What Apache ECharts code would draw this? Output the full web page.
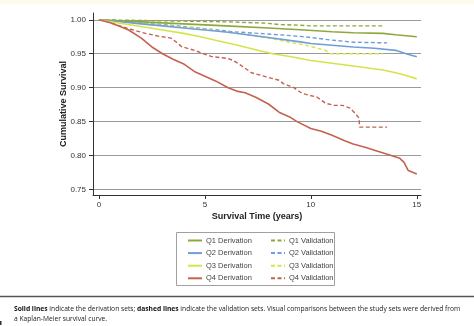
<!DOCTYPE html>
<html>
<head>
<meta charset="utf-8">
<script src="https://cdn.jsdelivr.net/npm/echarts@6/dist/echarts.min.js"></script>
<style>
  html, body { margin: 0; padding: 0; background: #fff; }
  #chart { width: 474px; height: 326px; }
</style>
</head>
<body>
<div id="chart"></div>
<script>
// Kaplan-Meier survival estimates: [years, cumulative survival]
const q1Derivation = [[0,1.000],[2,0.997],[4,0.994],[6,0.991],[8,0.988],[9.7,0.985],[11,0.9825],[12,0.981],[13.4,0.980],[14,0.978],[15,0.975]];
const q1Validation = [[0,1.000],[2,0.999],[4,0.998],[6,0.997],[7,0.996],[7.9,0.995],[8.5,0.993],[9.5,0.992],[10,0.991],[13.4,0.991]];
const q2Derivation = [[0,1.000],[1,0.997],[2,0.994],[3,0.991],[4,0.988],[5,0.985],[6,0.982],[7,0.978],[8,0.974],[9.5,0.9675],[10,0.965],[11,0.9625],[12,0.960],[13,0.958],[14,0.955],[14.5,0.950],[15,0.9455]];
const q2Validation = [[0,1.000],[1,0.998],[2,0.995],[3,0.993],[4,0.990],[5,0.987],[6.3,0.9825],[7.5,0.980],[8.7,0.9775],[9.7,0.975],[10.5,0.972],[11,0.970],[12,0.967],[13.6,0.966]];
const q3Derivation = [[0,1.000],[1,0.995],[2,0.990],[3,0.985],[4,0.980],[4.8,0.975],[5.5,0.970],[6.5,0.963],[7.4,0.956],[8.2,0.950],[9,0.946],[10,0.940],[11,0.936],[12,0.932],[13.4,0.926],[14,0.922],[14.5,0.918],[15,0.913]];
const q3Validation = [[0,1.000],[1,0.998],[2,0.995],[3,0.992],[4,0.989],[4.8,0.987],[6,0.982],[7,0.978],[8,0.973],[8.5,0.970],[9,0.967],[9.7,0.963],[10.2,0.959],[10.7,0.955],[10.9,0.950],[13.4,0.950]];
const q4Derivation = [[0,1.000],[0.5,0.996],[1,0.990],[1.4,0.985],[2,0.973],[2.5,0.960],[3,0.950],[3.5,0.942],[4,0.935],[4.5,0.924],[5,0.917],[5.5,0.910],[6.1,0.900],[6.5,0.895],[6.9,0.8925],[7.4,0.886],[8,0.876],[8.5,0.864],[9,0.857],[9.35,0.850],[10,0.840],[10.5,0.836],[11,0.830],[11.6,0.822],[12,0.817],[12.6,0.812],[13,0.808],[13.5,0.803],[13.9,0.799],[14.2,0.796],[14.4,0.790],[14.6,0.778],[15,0.773]];
const q4Validation = [[0,1.000],[0.3,0.998],[0.6,0.995],[1.1,0.990],[1.5,0.986],[2.2,0.980],[2.8,0.976],[3.4,0.973],[3.7,0.966],[3.9,0.9605],[4.5,0.955],[5.3,0.946],[6.1,0.943],[6.35,0.940],[6.7,0.933],[7.2,0.922],[7.9,0.916],[8.5,0.911],[8.7,0.906],[9.2,0.900],[9.6,0.8915],[10.3,0.886],[10.7,0.877],[11.1,0.874],[11.5,0.874],[11.85,0.870],[12.1,0.862],[12.28,0.855],[12.3,0.842],[13.6,0.842]];

const xTicks = [0, 5, 10, 15];
const yTicks = [0.75, 0.80, 0.85, 0.90, 0.95, 1.00];

const derivationNames = ['Q1 Derivation', 'Q2 Derivation', 'Q3 Derivation', 'Q4 Derivation'];
const validationNames = ['Q1 Validation', 'Q2 Validation', 'Q3 Validation', 'Q4 Validation'];

const colors = {
  q1: '#8ea83e',
  q2: '#6f9ed8',
  q3: '#d6e44a',
  q4: '#c4624f'
};

const FONT = '"Liberation Sans", Arial, sans-serif';

function solid(name, data, color) {
  return {
    name, type: 'line', data, showSymbol: false, symbol: 'none',
    lineStyle: { color, width: 1.6 }, itemStyle: { color },
    emphasis: { disabled: true }, z: 3
  };
}
function dashed(name, data, color) {
  return {
    name, type: 'line', data, showSymbol: false, symbol: 'none',
    lineStyle: { color, width: 1.4, type: [4, 2.5] }, itemStyle: { color },
    emphasis: { disabled: true }, z: 2
  };
}

const legendBase = {
  orient: 'vertical', top: 231.5,
  itemWidth: 14, itemHeight: 8, itemGap: 4.6, selectedMode: false,
  itemStyle: { opacity: 0 },
  textStyle: { fontSize: 7.5, color: '#444', fontFamily: FONT, padding: [0, 0, 0, -1] }
};

const chart = echarts.init(document.getElementById('chart'), null, { renderer: 'canvas' });

chart.setOption({
  animation: false,
  backgroundColor: '#ffffff',
  textStyle: { fontFamily: FONT },
  grid: { left: 93, right: 53, top: 13, bottom: 131 },
  xAxis: {
    type: 'value',
    min: -0.28, max: 15.2,
    name: 'Survival Time (years)',
    nameLocation: 'middle',
    nameGap: 17,
    nameMoveOverlap: false,
    nameTextStyle: { fontFamily: FONT, fontSize: 9, fontWeight: 'bold', color: '#222' },
    axisLine: { show: true, onZero: false, lineStyle: { color: '#333', width: 1 } },
    axisTick: { show: true, length: 4, customValues: xTicks, lineStyle: { color: '#333' } },
    axisLabel: { customValues: xTicks, margin: 6, fontSize: 8, color: '#333', fontFamily: FONT },
    splitLine: { show: false }
  },
  yAxis: {
    type: 'value',
    min: 0.742, max: 1.01,
    name: 'Cumulative Survival',
    nameLocation: 'middle',
    nameGap: 25,
    nameMoveOverlap: false,
    nameTextStyle: { fontFamily: FONT, fontSize: 9, fontWeight: 'bold', color: '#222' },
    axisLine: { show: true, onZero: false, lineStyle: { color: '#333', width: 1 } },
    axisTick: { show: true, length: 4, customValues: yTicks, lineStyle: { color: '#333' } },
    axisLabel: { customValues: yTicks, margin: 7, fontSize: 8, color: '#333', fontFamily: FONT,
                 formatter: v => v.toFixed(2) },
    splitLine: { show: true, lineStyle: { color: '#9a9a9a', width: 1 } }
  },
  legend: [
    Object.assign({ data: derivationNames, left: 182 }, legendBase),
    Object.assign({ data: validationNames, left: 265 }, legendBase)
  ],
  graphic: [
    { type: 'rect', shape: { x: 0, y: 0, width: 474, height: 4 }, style: { fill: '#fdfbeb' }, z: -10 },
    { type: 'rect', shape: { x: 176.5, y: 232.5, width: 158, height: 53 },
      style: { fill: 'none', stroke: '#a0a0a0', lineWidth: 1 }, z: -1 },
    { type: 'line', shape: { x1: 0, y1: 296.5, x2: 474, y2: 296.5 },
      style: { stroke: '#555', lineWidth: 1.5 } },
    { type: 'rect', shape: { x: 0, y: 321, width: 1.5, height: 4 }, style: { fill: '#333' } },
    {
      type: 'text', left: 14, top: 304,
      style: {
        text: '{b|Solid lines} indicate the derivation sets; {b|dashed lines} indicate the validation sets. Visual comparisons between the study sets were derived from\na Kaplan-Meier survival curve.',
        font: '6.7px "Open Sans", sans-serif',
        fill: '#222',
        lineHeight: 10,
        rich: {
          b: { fontWeight: 'bold', fontSize: 6.7, fontFamily: '"Open Sans", sans-serif', fill: '#111' }
        }
      }
    }
  ],
  series: [
    solid('Q1 Derivation', q1Derivation, colors.q1),
    dashed('Q1 Validation', q1Validation, colors.q1),
    solid('Q2 Derivation', q2Derivation, colors.q2),
    dashed('Q2 Validation', q2Validation, colors.q2),
    solid('Q3 Derivation', q3Derivation, colors.q3),
    dashed('Q3 Validation', q3Validation, colors.q3),
    solid('Q4 Derivation', q4Derivation, colors.q4),
    dashed('Q4 Validation', q4Validation, colors.q4)
  ]
});
</script>
</body>
</html>
